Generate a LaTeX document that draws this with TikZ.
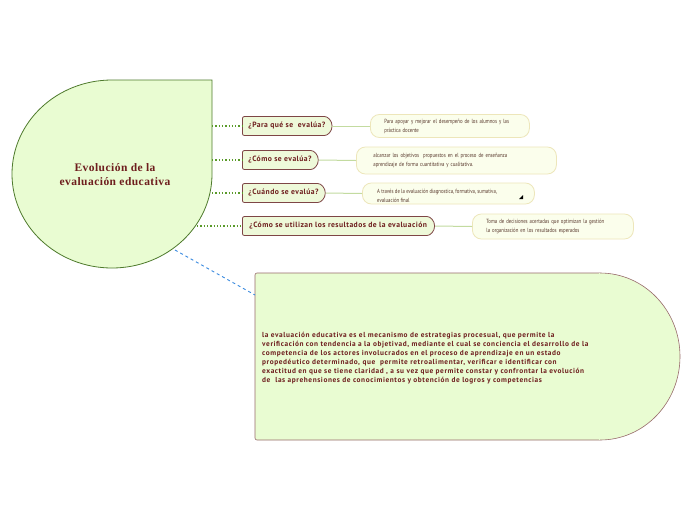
\documentclass[tikz,border=0pt]{standalone}
\usepackage{fontspec}
\setmainfont{PT Sans}
\newfontfamily\rootfont[LetterSpace=4]{Liberation Serif}
\newfontfamily\branchfont[LetterSpace=6]{PT Sans}
\newfontfamily\notefont[LetterSpace=8]{PT Sans}
\newfontfamily\leaffont[FakeStretch=0.8]{PT Sans}
\usetikzlibrary{shapes.misc}
\definecolor{rootfill}{HTML}{E9FCD2}
\definecolor{rootline}{HTML}{4E7A2C}
\definecolor{boxfill}{HTML}{EEF9D9}
\definecolor{boxline}{HTML}{7E4646}
\definecolor{leaffill}{HTML}{FBFEEC}
\definecolor{leafline}{HTML}{EDE6BA}
\definecolor{ink}{HTML}{6E1E1E}
\definecolor{leafink}{HTML}{5A3A2E}
\definecolor{dotgreen}{HTML}{5A9A2A}
\definecolor{stemgreen}{HTML}{C3DBA0}
\definecolor{linkblue}{HTML}{3A8AE0}
\tikzset{
  branch/.style={rounded rectangle, rounded rectangle left arc=none, rounded corners=2pt,
    draw=boxline, line width=0.8pt, fill=boxfill, minimum height=19pt, inner xsep=6pt,
    anchor=west, text=ink, font=\branchfont\fontsize{7.6}{8}\selectfont\bfseries},
  leaf/.style={rectangle, rounded corners=9pt, draw=leafline, line width=0.8pt, fill=leaffill,
    anchor=west, text=leafink, font=\leaffont\fontsize{6}{9}\selectfont, align=left},
  dotlink/.style={draw=dotgreen, line width=1.3pt, dotted},
  stem/.style={draw=stemgreen, line width=1pt},
}
\begin{document}
\begin{tikzpicture}[x=1pt,y=-1pt]
			%%%%% START %%%%%
			\useasboundingbox[fill=white] (0,0) rectangle (696,520);
			
			% central drop
			\draw[draw=rootline, line width=0.8pt, fill=rootfill] (112,80) -- (212,80) -- (212,174)
			  arc[start angle=0, end angle=270, x radius=100, y radius=94] -- cycle;
			\node[text=ink, font=\rootfont\fontsize{11.5}{14}\selectfont\bfseries, align=center] (root) at (115,175)
			  {Evolución de la\\evaluación educativa};
			\coordinate (r1) at (212,126);
			\coordinate (r2) at (212,160);
			\coordinate (r3) at (212,193);
			\coordinate (r4) at (197,226);
			\coordinate (r5) at (175,250);
			
			% questions
			\node[branch] (para) at (242,126) {¿Para qué se \ evalúa?};
			\node[branch] (como) at (242,160) {¿Cómo se evalúa?};
			\node[branch] (cuando) at (242,193) {¿Cuándo se evalúa?};
			\node[branch, inner xsep=7pt] (usan) at (242,226) {¿Cómo se utilizan los resultados de la evaluación};
			
			% answers
			\node[leaf, minimum width=159pt, minimum height=23pt, text width=131pt, inner xsep=14pt] (apoyar) at (370,126)
			  {Para apoyar y mejorar el desempeño de los alumnos y las\\práctica docente};
			\node[leaf, minimum width=200pt, minimum height=27pt, text width=166pt, inner xsep=17pt] (alcanzar) at (356,160.5)
			  {alcanzar los objetivos \ propuestos en el proceso de enseñanza\\aprendizaje de forma cuantitativa y cualitativa.};
			\node[leaf, minimum width=172pt, minimum height=21pt, inner sep=0pt] (traves) at (362,193.5) {};
			\begin{scope}
			  \clip (traves.north west) rectangle (534,201.5);
			  \node[anchor=north west, text=leafink, font=\leaffont\fontsize{6}{9}\selectfont, align=left, inner sep=0pt]
			    (travestxt) at (377,189) {A través de la evaluación diagnostica, formativa, sumativa,\\evaluación final};
			\end{scope}
			\fill[black] (519,199) -- (523,195) -- (523,199) -- cycle;
			\node[leaf, minimum width=161pt, minimum height=25pt, text width=133pt, inner xsep=14pt] (toma) at (472,226.5)
			  {Toma de decisiones acertadas que optimizan la gestión\\la organización en los resultados esperados};
			
			% big note
			\draw[draw=boxline!80, line width=0.6pt, fill=rootfill, rounded corners=2pt] (600,273) -- (255,273) -- (255,440) -- (600,440);
			\fill[rootfill] (599,273) rectangle (601,440);
			\draw[draw=boxline!80, line width=0.6pt, fill=rootfill] (600,440)
			  arc[start angle=90, end angle=-90, x radius=80, y radius=83.5];
			\coordinate (notaedge) at (255,295);
			\node[anchor=west, inner sep=0pt, align=left, text=ink, font=\notefont\fontsize{7.3}{9}\selectfont\bfseries] (nota) at (262,358)
			  {la evaluación educativa es el mecanismo de estrategias procesual, que permite la\\
			   verificación con tendencia a la objetivad, mediante el cual se conciencia el desarrollo de la\\
			   competencia de los actores involucrados en el proceso de aprendizaje en un estado\\
			   propedéutico determinado, que \ permite retroalimentar, verificar e identificar con\\
			   exactitud en que se tiene claridad , a su vez que permite constar y confrontar la evolución\\
			   de \ las aprehensiones de conocimientos y obtención de logros y competencias};
			
			% links
			\draw[dotlink] (r1) -- (para.west);
			\draw[dotlink] (r2) -- (como.west);
			\draw[dotlink] (r3) -- (cuando.west);
			\draw[dotlink] (r4) -- (usan.west);
			\draw[stem] (para.east) -- (apoyar.west);
			\draw[stem] (como.east) -- (alcanzar.west);
			\draw[stem] (cuando.east) -- (traves.west);
			\draw[stem] (usan.east) -- (toma.west);
			\draw[draw=linkblue, line width=0.9pt, dash pattern=on 3pt off 3pt] (r5) -- (notaedge);
			%%%%% END %%%%%
\end{tikzpicture}
\end{document}
